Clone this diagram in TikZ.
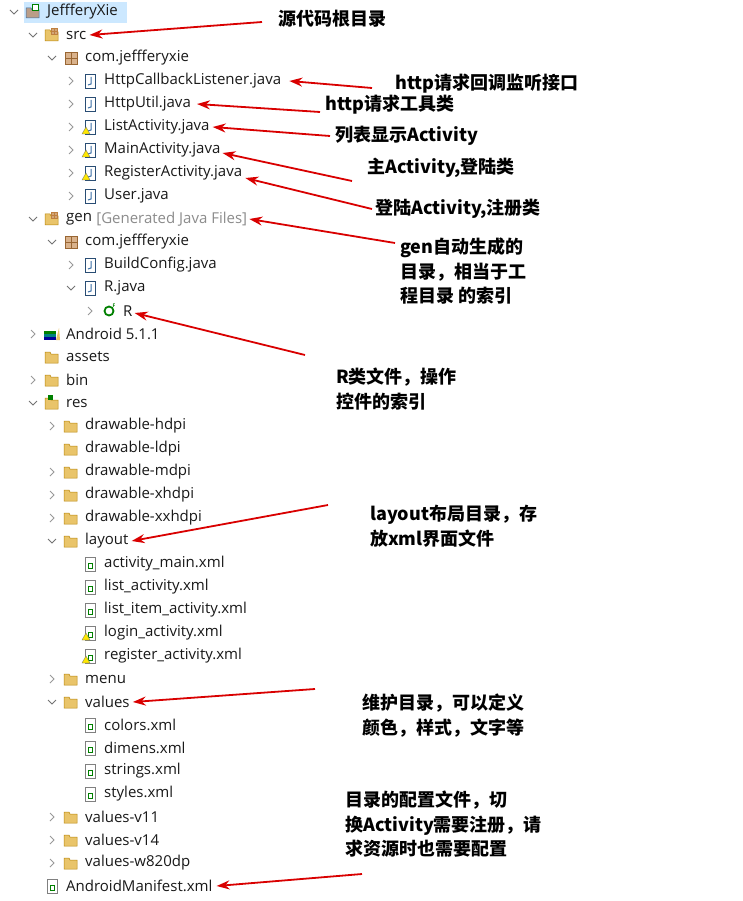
\documentclass[tikz,border=0pt]{standalone}
\usepackage{fontspec}
\setmainfont{Open Sans}
\newfontfamily\cjk{Noto Sans CJK SC}
\usetikzlibrary{arrows.meta}
\definecolor{fold}{HTML}{E9C46A}
\definecolor{foldd}{HTML}{B8860B}
\definecolor{jblue}{HTML}{3A6EA5}
\definecolor{sel}{HTML}{CCE8FF}
\tikzset{
 lbl/.style={anchor=west,inner sep=0pt,font=\fontsize{15}{16}\selectfont,text=black!90},
 note/.style={anchor=north west,inner sep=0pt,align=left,font=\cjk\bfseries\fontsize{18}{24.5}\selectfont},
 redarr/.style={draw=red!85!black,line width=1.8pt,-{Stealth[length=13pt,width=9pt]}},
 exp/.style={draw=black!55,line width=0.9pt}
}
\def\icfolder{\fill[fold,draw=foldd,line width=0.5pt] (-7,-5)--(-2,-5)--(-1,-3)--(6,-3)--(6,6)--(-7,6)--cycle;}
\def\icsrc{\icfolder\fill[brown!70,draw=brown] (-1,-7) rectangle (5,-1);\draw[brown] (2,-7)--(2,-1) (-1,-4)--(5,-4);}
\def\icres{\icfolder\fill[green!50!black] (-4,-8) rectangle (1,-3);}
\def\icprj{\fill[fold!80!blue,draw=jblue,line width=0.5pt] (-7,-4)--(-2,-4)--(-1,-2)--(6,-2)--(6,6)--(-7,6)--cycle;\draw[green!50!black,fill=white] (-1,-8) rectangle (5,-2);}
\def\icpkg{\fill[brown!60,draw=brown!80!black,line width=0.5pt] (-6,-6) rectangle (6,6);\draw[brown!80!black] (0,-6)--(0,6) (-6,0)--(6,0);}
\def\icjava{\draw[jblue!70!black,fill=white,line width=0.6pt] (-5,-7) rectangle (5,7);\draw[jblue,line width=1pt] (1,-4)--(1,3)--(-2,4);}
\def\icjavaw{\icjava\fill[yellow!90!orange,draw=black!60,line width=0.3pt] (-8,7)--(-4,0)--(0,7)--cycle;}
\def\icxml{\draw[black!50,fill=white,line width=0.6pt] (-5,-7) rectangle (5,7);\draw[green!50!black,line width=0.7pt] (-2,-1) rectangle (2,4);}
\def\icxmlw{\icxml\fill[yellow!90!orange,draw=black!60,line width=0.3pt] (-8,7)--(-4,0)--(0,7)--cycle;}
\def\iclib{\fill[teal] (-8,0) rectangle (4,3);\fill[blue!60!black] (-8,3) rectangle (4,6);\fill[green!50!black] (-8,-3) rectangle (4,0);\fill[fold] (4,6)--(7,-6)--(8,6)--cycle;}
\def\iccls{\draw[green!50!black,line width=1.8pt] (0,0) circle (4.5);\node[font=\tiny\bfseries,text=green!50!black,inner sep=0] at (5,-5) {F};}
\def\icnone{}
\begin{document}
\begin{tikzpicture}[x=1pt,y=-1pt]
\useasboundingbox[fill=white] (0,0) rectangle (743,901);
\fill[sel] (24,2) rectangle (127,23);
\foreach \k/\l/\e/\i/\t in {
0/0/v/prj/JeffferyXie,1/1/v/src/src,2/2/v/pkg/com.jeffferyxie,
3/3/c/java/HttpCallbackListener.java,4/3/c/java/HttpUtil.java,5/3/c/javaw/ListActivity.java,
6/3/c/javaw/MainActivity.java,7/3/c/javaw/RegisterActivity.java,8/3/c/java/User.java,
9/1/v/src/gen,10/2/v/pkg/com.jeffferyxie,11/3/c/java/BuildConfig.java,12/3/v/java/R.java,
13/4/c/cls/R,14/1/c/lib/Android 5.1.1,15/1/n/folder/assets,16/1/c/folder/bin,17/1/v/res/res,
18/2/c/folder/drawable-hdpi,19/2/n/folder/drawable-ldpi,20/2/c/folder/drawable-mdpi,
21/2/c/folder/drawable-xhdpi,22/2/c/folder/drawable-xxhdpi,23/2/v/folder/layout,
24/3/n/xml/activity\_main.xml,25/3/n/xml/list\_activity.xml,26/3/n/xml/list\_item\_activity.xml,
27/3/n/xmlw/login\_activity.xml,28/3/n/xmlw/register\_activity.xml,29/2/c/folder/menu,
30/2/v/folder/values,31/3/n/xml/colors.xml,32/3/n/xml/dimens.xml,33/3/n/xml/strings.xml,
34/3/n/xml/styles.xml,35/2/c/folder/values-v11,36/2/c/folder/values-v14,
37/2/c/folder/values-w820dp,38/1/n/xml/AndroidManifest.xml}{
 \pgfmathsetmacro\yy{12+23*\k}
 \pgfmathsetmacro\ex{14+19*\l}
 \pgfmathsetmacro\ix{33+19*\l}
 \pgfmathsetmacro\tx{47+19*\l}
 \if v\e \draw[exp] (\ex-4,\yy-2)--(\ex,\yy+2)--(\ex+4,\yy-2);\fi
 \if c\e \draw[exp,black!40] (\ex-2,\yy-4)--(\ex+2,\yy)--(\ex-2,\yy+4);\fi
 \begin{scope}[shift={(\ix,\yy)}]\csname ic\i\endcsname\end{scope}
 \node[lbl] (r\k) at (\tx,\yy) {\t};
}
\node[lbl,text=black!45] (g9) at (r9.east) {~[Generated Java Files]};
% annotations
\node[note] (n0) at (278,10) {源代码根目录};
\node[note] (n1) at (395,74) {http请求回调监听接口};
\node[note] (n2) at (325,95) {http请求工具类};
\node[note] (n3) at (335,126) {列表显示Activity};
\node[note] (n4) at (367,158) {主Activity,登陆类};
\node[note] (n5) at (375,199) {登陆Activity,注册类};
\node[note] (n6) at (400,238) {gen自动生成的\\目录，相当于工\\程目录 的索引};
\node[note] (n7) at (336,368) {R类文件，操作\\控件的索引};
\node[note] (n8) at (370,505) {layout布局目录，存\\放xml界面文件};
\node[note] (n9) at (362,694) {维护目录，可以定义\\颜色，样式，文字等};
\node[note] (n10) at (345,791) {目录的配置文件，切\\换Activity需要注册，请\\求资源时也需要配置};
\coordinate (t0) at (262,22); \coordinate (t1) at (372,88); \coordinate (t2) at (320,112);
\coordinate (t3) at (330,136); \coordinate (t4) at (352,181); \coordinate (t5) at (372,209);
\coordinate (t6) at (395,243); \coordinate (t7) at (305,355); \coordinate (t8) at (328,505);
\coordinate (t9) at (315,689); \coordinate (t10) at (362,874);
\draw[redarr] (t0) -- ([xshift=3pt]r1.east);
\draw[redarr] (t1) -- ([xshift=8pt]r3.east);
\draw[redarr] (t2) -- ([xshift=6pt]r4.east);
\draw[redarr] (t3) -- ([xshift=3pt]r5.east);
\draw[redarr] (t4) -- ([xshift=2pt,yshift=-3pt]r6.east);
\draw[redarr] (t5) -- ([xshift=3pt,yshift=-5pt]r7.east);
\draw[redarr] (t6) -- ([xshift=2pt]g9.east);
\draw[redarr] (t7) -- ([xshift=2pt,yshift=-2pt]r13.east);
\draw[redarr] (t8) -- ([xshift=3pt]r23.east);
\draw[redarr] (t9) -- ([xshift=3pt]r30.east);
\draw[redarr] (t10) -- ([xshift=4pt]r38.east);
\end{tikzpicture}
\end{document}
